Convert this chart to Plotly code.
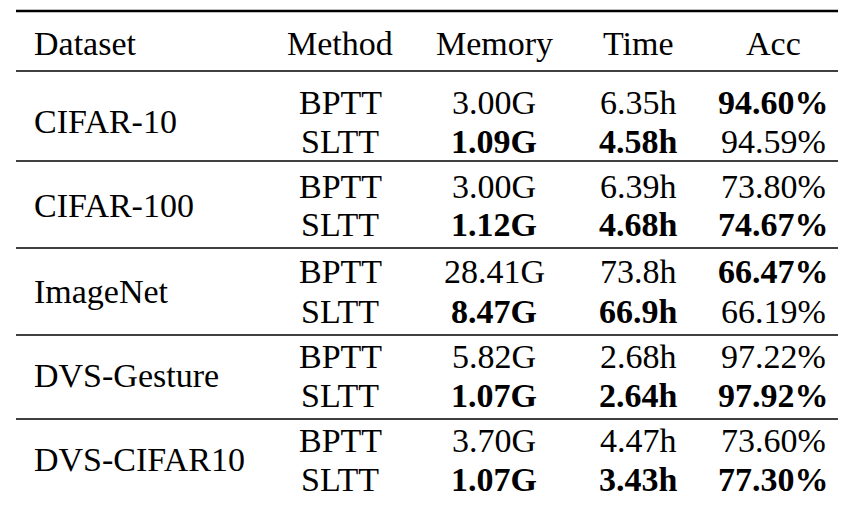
import plotly.graph_objects as go

headers = ["Dataset", "Method", "Memory", "Time", "Acc"]
datasets = ["CIFAR-10", "CIFAR-100", "ImageNet", "DVS-Gesture", "DVS-CIFAR10"]
methods = ["BPTT", "SLTT"]
memory = [["3.00G", "1.09G"], ["3.00G", "1.12G"], ["28.41G", "8.47G"], ["5.82G", "1.07G"], ["3.70G", "1.07G"]]
time_h = [["6.35h", "4.58h"], ["6.39h", "4.68h"], ["73.8h", "66.9h"], ["2.68h", "2.64h"], ["4.47h", "3.43h"]]
acc = [["94.60%", "94.59%"], ["73.80%", "74.67%"], ["66.47%", "66.19%"], ["97.22%", "97.92%"], ["73.60%", "77.30%"]]
# which method is best per dataset (index into methods) for each column
best_mem = [1, 1, 1, 1, 1]
best_time = [1, 1, 1, 1, 1]
best_acc = [0, 1, 0, 1, 1]

# layout (pixel coordinates)
col_x = [24, 332, 486, 630, 765]
header_y = 35
row_y = [[94, 133], [178, 216], [263, 303], [348, 387], [432, 471]]
rule_y = [153, 240, 327, 411]
FS = 34
FONT = "Times New Roman, Liberation Serif, serif"

fig = go.Figure()


def cell(x, y, txt, bold=False, anchor="center"):
    fig.add_annotation(x=x, y=y, text=f"<b>{txt}</b>" if bold else txt, showarrow=False,
                       xanchor=anchor, yanchor="middle",
                       font=dict(family=FONT, size=FS, color="black"))


for i, h in enumerate(headers):
    cell(col_x[i], header_y, h, anchor="left" if i == 0 else "center")

for g, ds in enumerate(datasets):
    cell(col_x[0], sum(row_y[g]) / 2, ds, anchor="left")
    for r, m in enumerate(methods):
        y = row_y[g][r]
        cell(col_x[1], y, m)
        cell(col_x[2], y, memory[g][r], bold=best_mem[g] == r)
        cell(col_x[3], y, time_h[g][r], bold=best_time[g] == r)
        cell(col_x[4], y, acc[g][r], bold=best_acc[g] == r)

fig.add_shape(type="line", x0=8, x1=838, y0=3, y1=3, line=dict(color="black", width=2.5))
fig.add_shape(type="line", x0=8, x1=838, y0=63, y1=63, line=dict(color="black", width=1.5))
for y in rule_y:
    fig.add_shape(type="line", x0=8, x1=838, y0=y, y1=y, line=dict(color="black", width=1.5))
fig.add_shape(type="line", x0=8, x1=838, y0=502, y1=502, line=dict(color="black", width=2.5))

fig.update_layout(
    width=846, height=505, margin=dict(l=0, r=0, t=0, b=0),
    plot_bgcolor="white", paper_bgcolor="white", showlegend=False,
    xaxis=dict(range=[0, 846], visible=False, fixedrange=True),
    yaxis=dict(range=[505, 0], visible=False, fixedrange=True),
)

fig.write_html("out.html")
